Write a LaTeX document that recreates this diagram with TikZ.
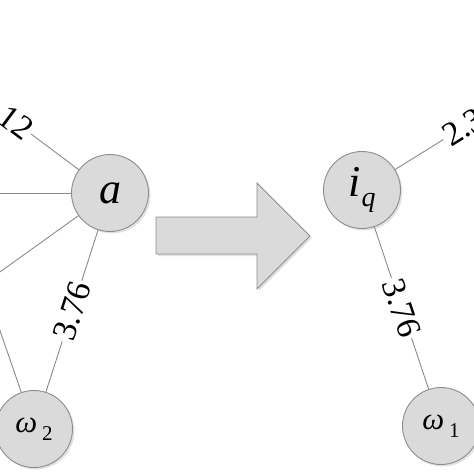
\documentclass[tikz,border=0pt]{standalone}
\usepackage{fontspec}
\setmainfont{Liberation Serif}
\usetikzlibrary{shadows}
\definecolor{nodefill}{HTML}{DADADA}
\definecolor{nodeline}{HTML}{8C8C8C}
\definecolor{edgeline}{HTML}{8A8A8A}
\begin{document}
\begin{tikzpicture}[x=1pt,y=-1pt,
  softshadow/.style={drop shadow={shadow xshift=2pt,shadow yshift=-2pt,opacity=0.25,fill=black!45}},
  vertex/.style={circle,draw=nodeline,fill=nodefill,line width=0.9pt,minimum size=77pt,inner sep=0pt,softshadow},
  edge/.style={draw=edgeline,line width=0.9pt},
  wlabel/.style={sloped,fill=white,inner sep=2pt,font=\fontsize{34}{34}\selectfont},
  bigmath/.style={font=\fontsize{44}{44}\selectfont\itshape},
  smallmath/.style={font=\fontsize{31}{31}\selectfont\itshape},
  bigarrow/.style={draw=nodeline,fill=nodefill,line width=0.9pt,softshadow}]
\useasboundingbox (0,0) rectangle (474,474);
\clip (0,0) rectangle (474,474);
% off-picture ends of connectors
\coordinate (p1) at (-68,60);
\coordinate (p2) at (-60,193);
\coordinate (p3) at (-60,315);
\coordinate (p4) at (-40,215);
\coordinate (p5) at (546,76);
% vertices
\node[vertex,bigmath] (a) at (110,193) {a};
\node[vertex,smallmath] (w2) at (34,429) {ω\kern5pt\raisebox{-8pt}{\upshape\fontsize{21}{21}\selectfont 2}};
\node[vertex,bigmath] (iq) at (362,190) {i\kern1pt\raisebox{-10pt}{\fontsize{28}{28}\selectfont q}};
\node[vertex,smallmath] (w1) at (441,426) {ω\kern5pt\raisebox{-8pt}{\upshape\fontsize{21}{21}\selectfont 1}};
% connectors
\draw[edge] (a) -- node[wlabel] {1.12} (p1);
\draw[edge] (a) -- (p2);
\draw[edge] (a) -- (p3);
\draw[edge] (w2) -- node[wlabel] {3.76} (a);
\draw[edge] (w2) -- (p4);
\draw[edge] (iq) -- node[wlabel] {2.34} (p5);
\draw[edge] (iq) -- node[wlabel] {3.76} (w1);
% big arrow
\draw[bigarrow] (156,217) -- (257,217) -- (257,183) -- (310,236) -- (257,289) -- (257,254) -- (156,254) -- cycle;
\end{tikzpicture}
\end{document}
